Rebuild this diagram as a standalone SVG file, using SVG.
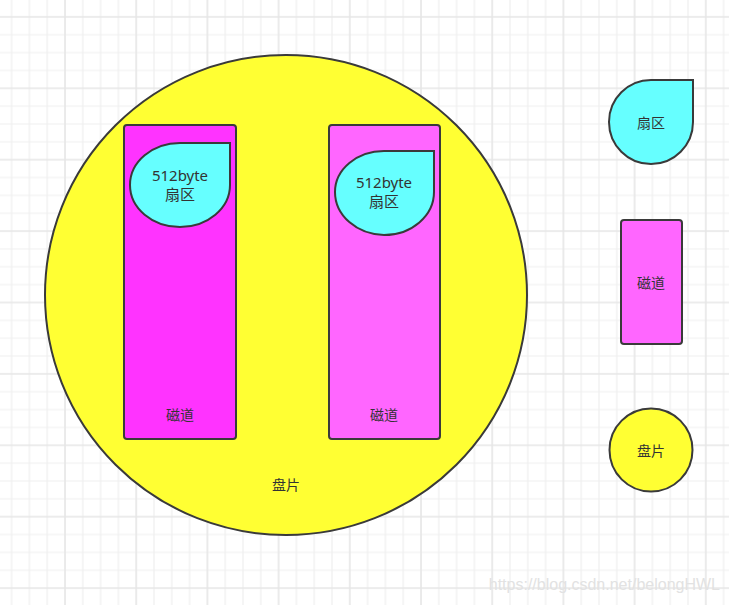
<svg xmlns="http://www.w3.org/2000/svg" width="729" height="605" viewBox="0 0 729 605">
  <defs>
    <pattern id="grid" patternUnits="userSpaceOnUse" x="-7.2" y="15.9" width="71.2" height="71.4">
      <g stroke="#efefef" stroke-width="1.2">
        <line x1="18.8" y1="0" x2="18.8" y2="71.4"/>
        <line x1="36.6" y1="0" x2="36.6" y2="71.4"/>
        <line x1="54.4" y1="0" x2="54.4" y2="71.4"/>
        <line x1="0" y1="18.85" x2="71.2" y2="18.85"/>
        <line x1="0" y1="36.7" x2="71.2" y2="36.7"/>
        <line x1="0" y1="54.55" x2="71.2" y2="54.55"/>
      </g>
      <g stroke="#e6e6e6" stroke-width="1.6">
        <line x1="1" y1="0" x2="1" y2="71.4"/>
        <line x1="0" y1="1" x2="71.2" y2="1"/>
      </g>
    </pattern>
    <style>
      .shape { stroke: #3a3a3a; stroke-width: 2; }
      .disk { fill: #ffff33; }
      .track1 { fill: #ff33ff; }
      .track2 { fill: #ff66ff; }
      .sector { fill: #66ffff; }
      .lbl { font-family: "Noto Sans", "Noto Sans CJK SC", sans-serif; font-size: 14px; fill: #333333; text-anchor: middle; }
      .lbl15 { font-family: "Noto Sans", "Noto Sans CJK SC", sans-serif; font-size: 15px; fill: #333333; text-anchor: middle; }
    </style>
  </defs>
  <rect x="0" y="0" width="729" height="605" fill="#ffffff"/>
  <rect x="0" y="0" width="729" height="605" fill="url(#grid)"/>

  <g id="disk">
    <ellipse class="shape disk" cx="286" cy="295" rx="241" ry="240"/>
    <text class="lbl" x="286" y="490">盘片</text>
  </g>

  <g id="track-left">
    <rect class="shape track1" x="124" y="125" width="112" height="314" rx="3"/>
    <text class="lbl" x="180" y="420">磁道</text>
  </g>

  <g id="track-right">
    <rect class="shape track2" x="329" y="125" width="111" height="314" rx="3"/>
    <text class="lbl" x="384" y="420">磁道</text>
  </g>

  <g id="sector-left">
    <path class="shape sector" d="M230,143 L230,185 A50,42 0 0 1 180,227 A50,42 0 0 1 130,185 A50,42 0 0 1 180,143 Z"/>
    <text class="lbl15" x="180" y="181">512byte</text>
    <text class="lbl15" x="180" y="200">扇区</text>
  </g>

  <g id="sector-right">
    <path class="shape sector" d="M434,151 L434,192 A50,43 0 0 1 384,235 A50,43 0 0 1 335,192 A49,41 0 0 1 384,151 Z"/>
    <text class="lbl15" x="384" y="188">512byte</text>
    <text class="lbl15" x="384" y="207">扇区</text>
  </g>

  <g id="legend-sector">
    <path class="shape sector" d="M693,80 L693,122 A42,42 0 0 1 651,164 A42,42 0 0 1 609,122 A42,42 0 0 1 651,80 Z"/>
    <text class="lbl" x="651" y="128">扇区</text>
  </g>

  <g id="legend-track">
    <rect class="shape track2" x="621" y="220" width="61" height="124" rx="3"/>
    <text class="lbl" x="651" y="288">磁道</text>
  </g>

  <g id="legend-disk">
    <circle class="shape disk" cx="651" cy="450" r="41.5"/>
    <text class="lbl" x="651" y="456">盘片</text>
  </g>

  <g id="connectors"/>

  <text x="720" y="590" font-family="'Liberation Sans', Arial, sans-serif" font-size="16" fill="#e2e2e2" text-anchor="end">https://blog.csdn.net/belongHWL</text>
</svg>
